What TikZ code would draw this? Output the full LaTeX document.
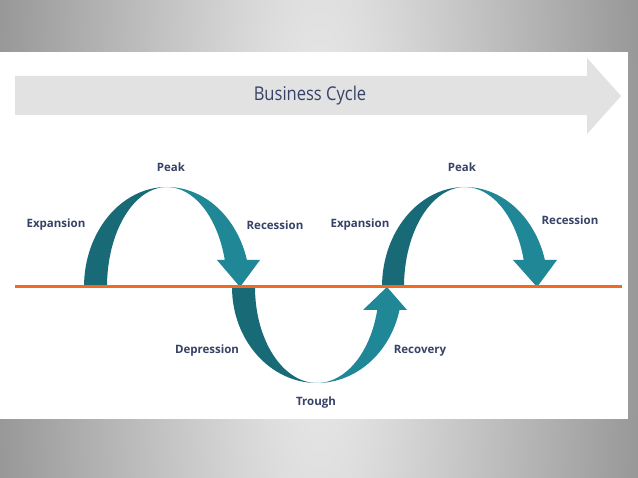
\documentclass[tikz,border=0pt]{standalone}
\usepackage{fontspec}
\setmainfont{Open Sans}
\usetikzlibrary{positioning}
\definecolor{cyclelight}{RGB}{31,135,150}
\definecolor{cycledark}{RGB}{24,106,118}
\definecolor{cycleline}{RGB}{242,106,33}
\definecolor{cycletext}{RGB}{55,66,102}
\definecolor{bannergray}{RGB}{226,226,226}
\definecolor{bgdark}{RGB}{120,120,120}
\definecolor{bglight}{RGB}{238,238,238}

\begin{document}
\begin{tikzpicture}[x=1pt, y=-1pt,
    lbl/.style={font=\fontsize{11.5}{13}\selectfont\bfseries, text=cycletext, inner sep=0pt},
    dk/.style={fill=cycledark},
    lt/.style={fill=cyclelight}]
  % backdrop
  \begin{scope}
    \clip (0,0) rectangle (638,478);
    \shade[inner color=bglight, outer color=bgdark] (-123,-1761) rectangle (761,2239);
  \end{scope}
  \fill[white] (0,52) rectangle (628,419);
  % banner arrow
  \fill[bannergray] (15,76) -- (587,76) -- (587,58) -- (621,96) -- (587,134) -- (587,115) -- (15,115) -- cycle;
  \node[font=\fontsize{19}{21}\selectfont, text=cycletext, xscale=0.87, transform shape] (title) at (310,96) {Business Cycle};
  % first peak
  \path[dk] (84,287) arc[start angle=180, end angle=270, x radius=83, y radius=100]
    arc[start angle=270, end angle=180, x radius=60, y radius=100] -- cycle;
  \path[lt] (167,187) arc[start angle=270, end angle=344.3, x radius=83, y radius=100]
    -- (260,260) -- (240,287) -- (217,260) -- (224.8,260)
    arc[start angle=344.3, end angle=270, x radius=60, y radius=100] -- cycle;
  % trough
  \path[dk] (232,287) arc[start angle=180, end angle=90, x radius=85, y radius=96]
    arc[start angle=90, end angle=180, x radius=62, y radius=96] -- cycle;
  \path[lt] (317,383) arc[start angle=90, end angle=13.86, x radius=85, y radius=96]
    -- (407,310) -- (387,287) -- (363,310) -- (377.2,310)
    arc[start angle=13.86, end angle=90, x radius=62, y radius=96] -- cycle;
  % second peak
  \path[dk] (382,287) arc[start angle=180, end angle=270, x radius=83, y radius=100]
    arc[start angle=270, end angle=180, x radius=61, y radius=100] -- cycle;
  \path[lt] (465,187) arc[start angle=270, end angle=344.3, x radius=83, y radius=100]
    -- (557,260) -- (537,287) -- (513,260) -- (523.7,260)
    arc[start angle=344.3, end angle=270, x radius=61, y radius=100] -- cycle;
  % axis
  \coordinate (axisL) at (15,287);
  \coordinate (axisR) at (622,287);
  \draw[cycleline, line width=3pt] (axisL) -- (axisR);
  % labels
  \node[lbl] (exp1) at (56,225) {Expansion};
  \node[lbl] (peak1) at (171,167) {Peak};
  \node[lbl] (rec1) at (275,225) {Recession};
  \node[lbl] (dep) at (207,351) {Depression};
  \node[lbl] (trough) at (316,403) {Trough};
  \node[lbl] (recov) at (420,351) {Recovery};
  \node[lbl] (exp2) at (360,225) {Expansion};
  \node[lbl] (peak2) at (462,167) {Peak};
  \node[lbl] (rec2) at (570,220) {Recession};
\end{tikzpicture}
\end{document}
